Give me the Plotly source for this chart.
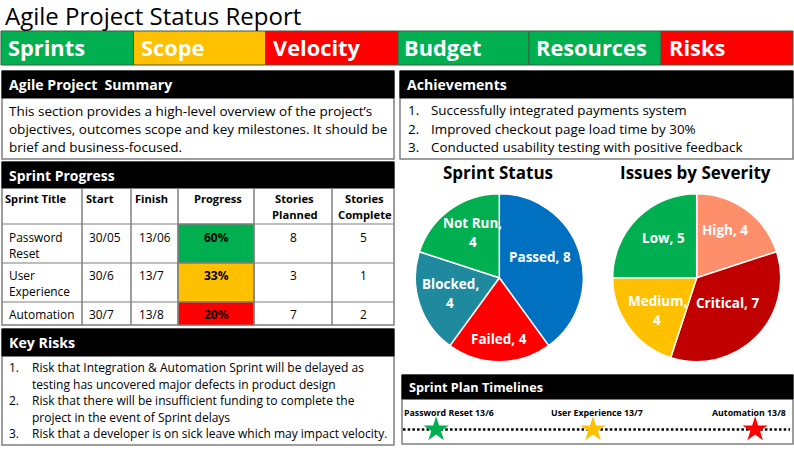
import plotly.graph_objects as go

WIDTH = 794
HEIGHT = 458
FONT = "Open Sans"

GREEN = "#00B050"
AMBER = "#FFC000"
RED = "#FF0000"
GREY = "#7F7F7F"

# RAG strip
rag_labels = ["Sprints", "Scope", "Velocity", "Budget", "Resources", "Risks"]
rag_colors = [GREEN, AMBER, RED, GREEN, GREEN, RED]

# Text panels
summary_lines = [
    "This section provides a high-level overview of the project\u2019s",
    "objectives, outcomes scope and key milestones. It should be",
    "brief and business-focused.",
]
achievements = [
    "Successfully integrated payments system",
    "Improved checkout page load time by 30%",
    "Conducted usability testing with positive feedback",
]
risk_lines = [
    ("1.", "Risk that Integration & Automation Sprint will be delayed as"),
    ("", "testing has uncovered major defects in product design"),
    ("2.", "Risk that there will be insufficient funding to complete the"),
    ("", "project in the event of Sprint delays"),
    ("3.", "Risk that a developer is on sick leave which may impact velocity."),
]

# Sprint table
sprint_titles = [["Password", "Reset"], ["User", "Experience"], ["Automation"]]
sprint_start = ["30/05", "30/6", "30/7"]
sprint_finish = ["13/06", "13/7", "13/8"]
sprint_progress = ["60%", "33%", "20%"]
sprint_planned = ["8", "3", "7"]
sprint_complete = ["5", "1", "2"]
sprint_colors = [GREEN, AMBER, RED]

# Pies
status_labels = ["Passed", "Failed", "Blocked", "Not Run"]
status_values = [8, 4, 4, 4]
status_colors = ["#0070C0", RED, "#1F8A9E", GREEN]
severity_labels = ["High", "Critical", "Medium", "Low"]
severity_values = [4, 7, 4, 5]
severity_colors = ["#FF8F6B", "#C00000", AMBER, GREEN]

# Timeline
timeline_names = ["Password Reset 13/6", "User Experience 13/7", "Automation 13/8"]
timeline_dates = ["2023-06-13", "2023-07-13", "2023-08-13"]
timeline_start = "2023-06-06 16:00"
timeline_end = "2023-08-19 16:00"


def px(x):
    return x / WIDTH


def py(y):
    return 1 - y / HEIGHT


fig = go.Figure()
shapes = []
notes = []


def box(x0, y0, x1, y1, fill="white", line=GREY, lw=1.5):
    shapes.append(dict(type="rect", xref="paper", yref="paper",
                       x0=px(x0), x1=px(x1), y0=py(y0), y1=py(y1),
                       fillcolor=fill, line=dict(color=line, width=lw), layer="below"))


def text(x, y, s, size=13, color="black", bold=False, anchor="left"):
    notes.append(dict(xref="paper", yref="paper", x=px(x), y=py(y),
                      text=f"<b>{s}</b>" if bold else s, showarrow=False,
                      xanchor=anchor, yanchor="middle", borderpad=0,
                      font=dict(family=FONT, size=size, color=color)))


def panel(x0, y0, y_head, x1, y1, title, size=14.1):
    box(x0, y0, x1, y1)
    box(x0, y0, x1, y_head, fill="black", line="black", lw=1)
    text(x0 + 6, (y0 + y_head) / 2, title, size=size, color="white", bold=True)


# Title and RAG strip
text(4, 15, "Agile Project Status Report", size=24)
rag_edges = [1, 133.5, 265.5, 398, 529, 661, 793]
rag_text_x = [7, 140, 272, 403, 535, 668]
for i, label in enumerate(rag_labels):
    box(rag_edges[i], 31, rag_edges[i + 1], 65, fill=rag_colors[i], line="#3F5F3F", lw=1)
    text(rag_text_x[i], 47.5, label, size=21.8, color="white", bold=True)

# Summary and achievements
panel(2, 71, 98, 394, 159, "Agile Project  Summary")
for i, line in enumerate(summary_lines):
    text(8, 111 + i * 18, line, size=13.5)

panel(400, 71, 98, 793, 159, "Achievements")
for i, line in enumerate(achievements):
    text(407, 110.5 + i * 18.2, f"{i + 1}.", size=13.4)
    text(430, 110.5 + i * 18.2, line, size=13.4)

# Sprint progress table
panel(2, 162, 188, 394, 325, "Sprint Progress", size=13.9)
col_edges = [2, 82, 131, 178, 254, 332, 394]
row_edges = [188, 224, 263, 302, 325]
for i in range(3):
    box(col_edges[3], row_edges[i + 1], col_edges[4], row_edges[i + 2],
        fill=sprint_colors[i], line=GREY, lw=1)
for x in col_edges[1:-1]:
    shapes.append(dict(type="line", xref="paper", yref="paper", x0=px(x), x1=px(x),
                       y0=py(188), y1=py(325), line=dict(color=GREY, width=1.5), layer="below"))
for y in row_edges[1:-1]:
    shapes.append(dict(type="line", xref="paper", yref="paper", x0=px(2), x1=px(394),
                       y0=py(y), y1=py(y), line=dict(color=GREY, width=1.2), layer="below"))

text(4, 198.5, "Sprint Title", size=11.1, bold=True)
text(85, 198.5, "Start", size=11.1, bold=True)
text(134, 198.5, "Finish", size=11.1, bold=True)
text(218, 198.5, "Progress", size=11.1, bold=True, anchor="center")
text(294.5, 199, "Stories", size=11.2, bold=True, anchor="center")
text(294.5, 214, "Planned", size=11.2, bold=True, anchor="center")
text(364.5, 199, "Stories", size=11.2, bold=True, anchor="center")
text(364.5, 214, "Complete", size=11.2, bold=True, anchor="center")

row_text_y = [237, 275, 314]
for i, y in enumerate(row_text_y):
    for k, part in enumerate(sprint_titles[i]):
        text(8, y + k * 16.3, part, size=11.9)
    text(88, y, sprint_start[i], size=11.9)
    text(138, y, sprint_finish[i], size=11.9)
    text(216, y, sprint_progress[i], size=12, bold=True, anchor="center")
    text(293, y, sprint_planned[i], size=11.9, anchor="center")
    text(363, y, sprint_complete[i], size=11.9, anchor="center")

# Key risks
panel(2, 329, 356, 394, 445, "Key Risks", size=14.2)
for i, (num, line) in enumerate(risk_lines):
    y = 367.5 + i * 16.5
    if num:
        text(8, y, num, size=12)
    text(31, y, line, size=12)

# Pies
PIE_R = 84
PIE_Y = 277.7
for title, labels, values, colors, cx in [
    ("Sprint Status", status_labels, status_values, status_colors, 499.3),
    ("Issues by Severity", severity_labels, severity_values, severity_colors, 696.7),
]:
    fig.add_trace(go.Pie(labels=labels, values=values, sort=False, direction="clockwise",
                         rotation=0, textinfo="none", hoverinfo="label+value",
                         marker=dict(colors=colors, line=dict(color="white", width=1.5)),
                         domain=dict(x=[px(cx - PIE_R), px(cx + PIE_R)],
                                     y=[py(PIE_Y + PIE_R), py(PIE_Y - PIE_R)]),
                         showlegend=False))
    text(cx - 1.5, 172, title, size=17, bold=True, anchor="center")

# Pie labels, wrapped the way the reference wraps them
status_pos = [(540, 257), (499, 339), (450, 293.5), (472.5, 232.5)]
status_wrap = [False, False, True, True]
for label, value, (x, y), wrap in zip(status_labels, status_values, status_pos, status_wrap):
    if wrap:
        text(x, y - 9.5, f"{label},", size=13.5, color="white", bold=True, anchor="center")
        text(x, y + 9.5, str(value), size=13.5, color="white", bold=True, anchor="center")
    else:
        text(x, y, f"{label}, {value}", size=13.5, color="white", bold=True, anchor="center")

severity_pos = [(725, 230), (727, 303), (657, 310), (663, 238)]
severity_wrap = [False, False, True, False]
for label, value, (x, y), wrap in zip(severity_labels, severity_values, severity_pos, severity_wrap):
    if wrap:
        text(x, y - 9.5, f"{label},", size=13.5, color="white", bold=True, anchor="center")
        text(x, y + 9.5, str(value), size=13.5, color="white", bold=True, anchor="center")
    else:
        text(x, y, f"{label}, {value}", size=13.5, color="white", bold=True, anchor="center")

# Sprint plan timeline on a real date axis
panel(402, 375, 399, 793, 444, "Sprint Plan Timelines", size=12.7)
fig.add_trace(go.Scatter(x=[timeline_start, timeline_end], y=[0, 0], mode="lines",
                         line=dict(color="black", width=2.5, dash="2.5px,2.2px"),
                         hoverinfo="skip", showlegend=False))
fig.add_trace(go.Scatter(x=timeline_dates, y=[0] * len(timeline_dates), mode="markers",
                         marker=dict(symbol="star", size=19, color=sprint_colors, line=dict(width=0)),
                         text=timeline_names, hoverinfo="text", showlegend=False))
timeline_label_x = [449, 596.5, 749]
for name, x in zip(timeline_names, timeline_label_x):
    text(x, 413, name, size=8.8, bold=True, anchor="center")

fig.update_layout(
    width=WIDTH, height=HEIGHT,
    margin=dict(l=0, r=0, t=0, b=0),
    paper_bgcolor="white", plot_bgcolor="rgba(0,0,0,0)",
    font=dict(family=FONT),
    shapes=shapes, annotations=notes,
    xaxis=dict(type="date", range=[timeline_start, timeline_end], visible=False,
               domain=[px(403), px(790)]),
    yaxis=dict(range=[-1, 1], visible=False, domain=[py(444.5), py(414.5)]),
)

fig.write_html("out.html", config=dict(displayModeBar=False),
               post_script="document.body.style.margin='0';document.body.style.overflow='hidden';")
